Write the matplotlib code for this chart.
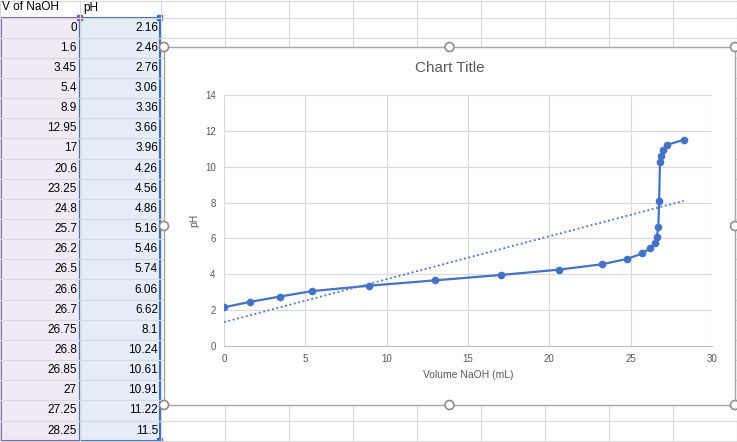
import numpy as np
import matplotlib.pyplot as plt
from matplotlib.patches import Rectangle, Circle

# data from the sheet
volume = [0, 1.6, 3.45, 5.4, 8.9, 12.95, 17, 20.6, 23.25, 24.8, 25.7, 26.2,
          26.5, 26.6, 26.7, 26.75, 26.8, 26.85, 27, 27.25, 28.25]
ph = [2.16, 2.46, 2.76, 3.06, 3.36, 3.66, 3.96, 4.26, 4.56, 4.86, 5.16, 5.46,
      5.74, 6.06, 6.62, 8.1, 10.24, 10.61, 10.91, 11.22, 11.5]
col_headers = ['V of NaOH', 'pH']

W, H = 737, 442
fig = plt.figure(figsize=(W / 100, H / 100), dpi=100)
plt.rcParams['font.family'] = ['Liberation Sans', 'DejaVu Sans']

# ---- spreadsheet background (pixel coordinates) ----
sheet = fig.add_axes([0, 0, 1, 1])
sheet.set_xlim(0, W)
sheet.set_ylim(H, 0)
sheet.axis('off')

row_h = 20.15
top = 17.5
col_x = [0, 80, 161]
extra_cols = [225, 289, 353, 417, 481, 545, 609, 673, 737]
sheet.add_patch(Rectangle((0, top), 80, row_h * len(volume), color='#EFEAF5', lw=0))
sheet.add_patch(Rectangle((80, top), 81, row_h * len(volume), color='#E4EDF8', lw=0))
for i in range(len(volume) + 2):
    y = top + i * row_h
    sheet.plot([0, W], [y, y], color='#D9D9D9', lw=0.8)
sheet.plot([0, W], [0.5, 0.5], color='#D9D9D9', lw=0.8)
for x in col_x + extra_cols:
    sheet.plot([x, x], [0, H], color='#D9D9D9', lw=0.8)

sheet.text(2, top - 4, col_headers[0], fontsize=8.5, va='bottom')
sheet.text(83, top - 4, col_headers[1], fontsize=8.5, va='bottom')
for i, (v, p) in enumerate(zip(volume, ph)):
    yc = top + (i + 0.5) * row_h
    sheet.text(77, yc, f'{v:g}', fontsize=8.5, ha='right', va='center')
    sheet.text(158, yc, f'{p:g}', fontsize=8.5, ha='right', va='center')

bottom = top + row_h * len(volume)
sheet.add_patch(Rectangle((0.5, top), 79.5, bottom - top, fill=False, ec='#7F5FA8', lw=1.5))
sheet.add_patch(Rectangle((80, top), 80, bottom - top, fill=False, ec='#3F6FBF', lw=1.5))
sheet.add_patch(Rectangle((77, top - 3), 5, 5, color='#7F5FA8'))
sheet.add_patch(Rectangle((157, top - 3), 5, 5, color='#3F6FBF'))
sheet.add_patch(Rectangle((157, bottom - 3), 5, 5, color='#3F6FBF'))

# chart frame
cx0, cy0, cx1, cy1 = 164, 47, 735, 405
sheet.add_patch(Rectangle((cx0, cy0), cx1 - cx0, cy1 - cy0, color='white', ec='#A6A6A6', lw=1, zorder=3))
for hx, hy in [(cx0, cy0), ((cx0 + cx1) / 2, cy0), (cx1, cy0), (cx0, (cy0 + cy1) / 2),
               (cx1, (cy0 + cy1) / 2), (cx0, cy1), ((cx0 + cx1) / 2, cy1), (cx1, cy1)]:
    sheet.add_patch(Circle((hx, hy), 4.5, fc='white', ec='#8C8C8C', lw=1.2, zorder=4))
sheet.text((cx0 + cx1) / 2, 68, 'Chart Title', fontsize=11, color='#595959', ha='center', va='center', zorder=5)

# ---- chart ----
ax = fig.add_axes([224 / W, 1 - 346 / H, (712 - 224) / W, (346 - 95) / H])
ax.set_facecolor('white')
ax.plot(volume, ph, color='#4472C4', lw=1.6, marker='o', ms=4.5)
slope, icpt = np.polyfit(volume, ph, 1)
tx = np.array([0, max(volume)])
ax.plot(tx, slope * tx + icpt, color='#4472C4', lw=1.3, ls=(0, (1, 1.5)))
ax.set_xlim(0, 30)
ax.set_ylim(0, 14)
ax.set_xticks(range(0, 31, 5))
ax.set_yticks(range(0, 15, 2))
ax.grid(True, color='#D9D9D9', lw=0.8)
ax.set_axisbelow(True)
for s in ['top', 'right', 'left']:
    ax.spines[s].set_visible(False)
ax.spines['bottom'].set_color('#BFBFBF')
ax.tick_params(length=0, labelsize=7, colors='#595959', pad=6)
ax.set_xlabel('Volume NaOH (mL)', fontsize=7.5, color='#595959')
ax.set_ylabel('pH', fontsize=7.5, color='#595959')

fig.savefig('out.png', dpi=100)
